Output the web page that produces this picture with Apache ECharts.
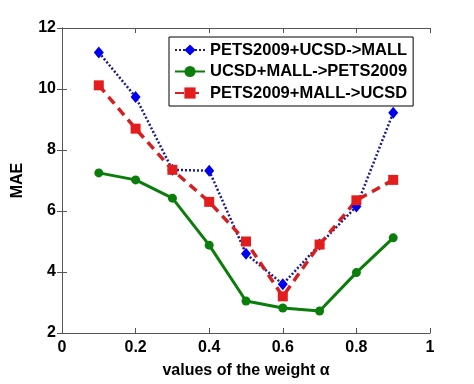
<!DOCTYPE html>
<html><head><meta charset="utf-8">
<script src="https://cdn.jsdelivr.net/npm/echarts@6/dist/echarts.min.js"></script>
<style>html,body{margin:0;padding:0;background:#fff}#c{width:474px;height:384px}</style>
</head><body><div id="c"></div>
<script>
const weights = [0.1,0.2,0.3,0.4,0.5,0.6,0.7,0.8,0.9];
const names = ['PETS2009+UCSD->MALL','UCSD+MALL->PETS2009','PETS2009+MALL->UCSD'];
const blueVals = [11.2,9.74,7.35,7.32,4.6,3.6,4.9,6.15,9.22];
const greenVals = [7.25,7.02,6.42,4.88,3.05,2.82,2.72,3.98,5.12];
const redVals = [10.12,8.7,7.35,6.3,5.0,3.2,4.9,6.35,7.02];
const xTicks = [0,0.2,0.4,0.6,0.8,1];
const yTicks = [2,4,6,8,10,12];

const pair = v => weights.map((w,i)=>[w,v[i]]);
const font = {fontFamily:'Liberation Sans, Arial, sans-serif', fontWeight:'bold', color:'#000'};
const axisCommon = {
  axisLine:{show:true,lineStyle:{color:'#555',width:1}},
  axisTick:{show:true,inside:true,length:5,lineStyle:{color:'#555'}},
  splitLine:{show:false}
};
const chart = echarts.init(document.getElementById('c'));
chart.setOption({
  animation:false,
  grid:{left:62,right:44,top:28,bottom:42,containLabel:false},
  legend:{
    data:names, orient:'vertical', left:169, top:37,
    itemWidth:30, itemHeight:14, itemGap:4.5,
    padding:[4.5,6,4.5,5],
    borderColor:'#000', borderWidth:1, backgroundColor:'#fff',
    textStyle:Object.assign({fontSize:16.5},font)
  },
  xAxis:[
    Object.assign({type:'value',min:0,max:1,interval:0.2,position:'bottom',
      name:'values of the weight α',nameLocation:'middle',nameGap:30,
      nameTextStyle:Object.assign({fontSize:16},font),
      axisLabel:Object.assign({fontSize:16,margin:7,formatter:v=>String(v)},font)},axisCommon),
    Object.assign({type:'value',min:0,max:1,interval:0.2,position:'top',axisLabel:{show:false}},axisCommon)
  ],
  yAxis:[
    Object.assign({type:'value',min:2,max:12,interval:2,position:'left',
      name:'MAE',nameLocation:'middle',nameGap:36,
      nameTextStyle:Object.assign({fontSize:16},font),
      axisLabel:Object.assign({fontSize:16,margin:6},font)},axisCommon),
    Object.assign({type:'value',min:2,max:12,interval:2,position:'right',axisLabel:{show:false}},axisCommon)
  ],
  series:[
    {name:names[0],type:'line',data:pair(blueVals),symbol:'diamond',symbolSize:[10,12],
      lineStyle:{color:'#1c1c8a',width:2.5,type:[2,2]},itemStyle:{color:'#0000ee'}},
    {name:names[1],type:'line',data:pair(greenVals),symbol:'circle',symbolSize:9,
      lineStyle:{color:'#0a7d0a',width:3},itemStyle:{color:'#0a7d0a'}},
    {name:names[2],type:'line',data:pair(redVals),symbol:'rect',symbolSize:10,
      lineStyle:{color:'#d42020',width:3.5,type:[9,6]},itemStyle:{color:'#e31c1c'}}
  ]
});
</script></body></html>
